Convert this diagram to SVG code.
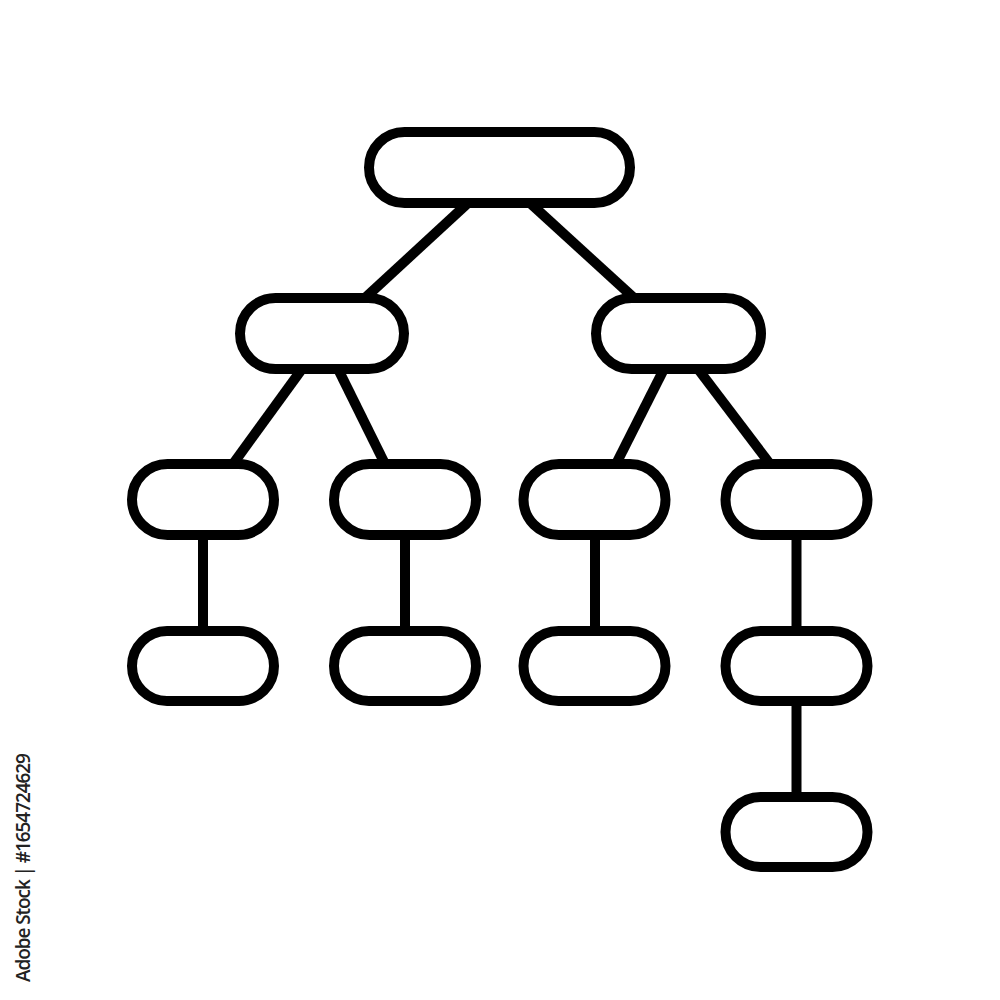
<svg xmlns="http://www.w3.org/2000/svg" width="1000" height="1000" viewBox="0 0 1000 1000">
<style>
.node{fill:#fff;stroke:#000;stroke-width:10}
.conn line{stroke:#000;stroke-width:10;stroke-linecap:butt}
.wm{font-family:"Open Sans","Noto Sans",sans-serif;font-size:19px;font-weight:600;fill:#222}
</style>
<rect width="1000" height="1000" fill="#fff"/>
<g id="connectors" class="conn">
<line x1="468" y1="203" x2="365" y2="298"/>
<line x1="530" y1="203" x2="634" y2="298"/>
<line x1="302" y1="369" x2="233" y2="464"/>
<line x1="338" y1="369" x2="385" y2="464"/>
<line x1="664" y1="369" x2="616" y2="464"/>
<line x1="698" y1="369" x2="770" y2="464"/>
<line x1="203" y1="535" x2="203" y2="631"/>
<line x1="405" y1="535" x2="405" y2="631"/>
<line x1="595" y1="535" x2="595" y2="631"/>
<line x1="796.5" y1="535" x2="796.5" y2="631"/>
<line x1="796.5" y1="701" x2="796.5" y2="797"/>
</g>
<g id="root"><rect class="node" x="369" y="132" width="261" height="71" rx="35.5"/></g>
<g id="l2-left"><rect class="node" x="240" y="298" width="164" height="71" rx="35.5"/></g>
<g id="l2-right"><rect class="node" x="596" y="298" width="165" height="71" rx="35.5"/></g>
<g id="l3-1"><rect class="node" x="132" y="464" width="142" height="71" rx="35.5"/></g>
<g id="l3-2"><rect class="node" x="334" y="464" width="142" height="71" rx="35.5"/></g>
<g id="l3-3"><rect class="node" x="523.5" y="464" width="142" height="71" rx="35.5"/></g>
<g id="l3-4"><rect class="node" x="725.5" y="464" width="142" height="71" rx="35.5"/></g>
<g id="l4-1"><rect class="node" x="132" y="631" width="142" height="70" rx="35"/></g>
<g id="l4-2"><rect class="node" x="334" y="631" width="142" height="70" rx="35"/></g>
<g id="l4-3"><rect class="node" x="523.5" y="631" width="142" height="70" rx="35"/></g>
<g id="l4-4"><rect class="node" x="725.5" y="631" width="142" height="70" rx="35"/></g>
<g id="l5-1"><rect class="node" x="725.5" y="797" width="142" height="70" rx="35"/></g>
<text class="wm" transform="translate(30,982) rotate(-90)" textLength="229" lengthAdjust="spacing">Adobe Stock | #1654724629</text>
</svg>
